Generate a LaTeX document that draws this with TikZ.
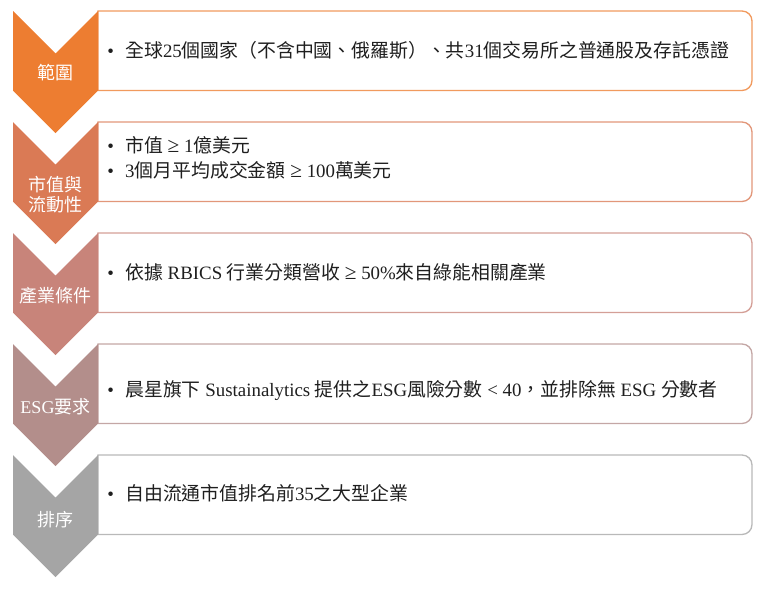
\documentclass[tikz,border=0pt]{standalone}
\usepackage{fontspec}
\setmainfont{Liberation Serif}
\newfontfamily\cjk{Noto Sans CJK TC}
\newcommand\lt[1]{{\rmfamily #1}}
\newcommand\geqsym{{\rmfamily\fontsize{16}{17}\selectfont ≥}}
\definecolor{cA}{HTML}{ED7D31}
\definecolor{cB}{HTML}{DA7A55}
\definecolor{cC}{HTML}{C8847A}
\definecolor{cD}{HTML}{B38E8B}
\definecolor{cE}{HTML}{A5A5A5}
\newcommand\mychev[2]{%
  \fill[#2] (13,-#1) -- (55.5,{-(#1+42.5)}) -- (98,-#1) -- (98,{-(#1+79.5)})
    -- (55.5,{-(#1+122)}) -- (13,{-(#1+79.5)}) -- cycle;}
\newcommand\mybox[2]{%
  \draw[boxline, draw=#2!78!white] (98,-#1) -- (742,-#1)
    arc[start angle=90,end angle=0,radius=7.5pt] -- (752,{-(#1+69.5)})
    arc[start angle=0,end angle=-90,radius=7.5pt] -- (98,{-(#1+79.5)}) -- cycle;}
\tikzset{
  boxline/.style={line width=1pt, fill=white},
  lbl/.style={text=white, inner sep=0pt, align=center,
    font=\cjk\fontsize{13.5}{15}\selectfont},
  txt/.style={anchor=west, inner sep=0pt, text=black!88,
    font=\cjk\fontsize{14.15}{17}\selectfont},
}
\newcommand\bul{\makebox[13.5pt][l]{\rmfamily\textbullet}}
\begin{document}
\begin{tikzpicture}[x=0.75pt,y=0.75pt]
\useasboundingbox (0,0) rectangle (768,-589);
% boxes
\mybox{11}{cA}
\mybox{122}{cB}
\mybox{233}{cC}
\mybox{344}{cD}
\mybox{455}{cE}
% chevrons
\mychev{11}{cA}
\mychev{122}{cB}
\mychev{233}{cC}
\mychev{344}{cD}
\mychev{455}{cE}
% labels
\node[lbl] (l1) at (55.5,-73) {範圍};
\node[lbl] (l2) at (55.5,-195) {市值與\\流動性};
\node[lbl] (l3) at (55.5,-296) {產業條件};
\node[lbl] (l4) at (55.5,-407) {\lt{ESG}要求};
\node[lbl] (l5) at (55.5,-520) {排序};
% texts
\node[txt] (t1) at (107,-50) {\bul 全球\lt{25}個國家（不含中國、俄羅斯）、共\lt{31}個交易所之普通股及存託憑證};
\node[txt] (t2) at (107,-145) {\bul 市值\lt{ }\geqsym\lt{ 1}億美元};
\node[txt] (t3) at (107,-170) {\bul \lt{3}個月平均成交金額\lt{ }\geqsym\lt{ 100}萬美元};
\node[txt] (t4) at (107,-272) {\bul 依據\lt{ RBICS }行業分類營收\lt{ }\geqsym\lt{ 50\%}來自綠能相關產業};
\node[txt] (t5) at (107,-391) {\bul 晨星旗下\lt{ Sustainalytics }提供之\lt{ESG}風險分數\lt{ < 40}，並排除無\lt{ ESG }分數者};
\node[txt] (t6) at (107,-493) {\bul 自由流通市值排名前\lt{35}之大型企業};
\end{tikzpicture}
\end{document}
